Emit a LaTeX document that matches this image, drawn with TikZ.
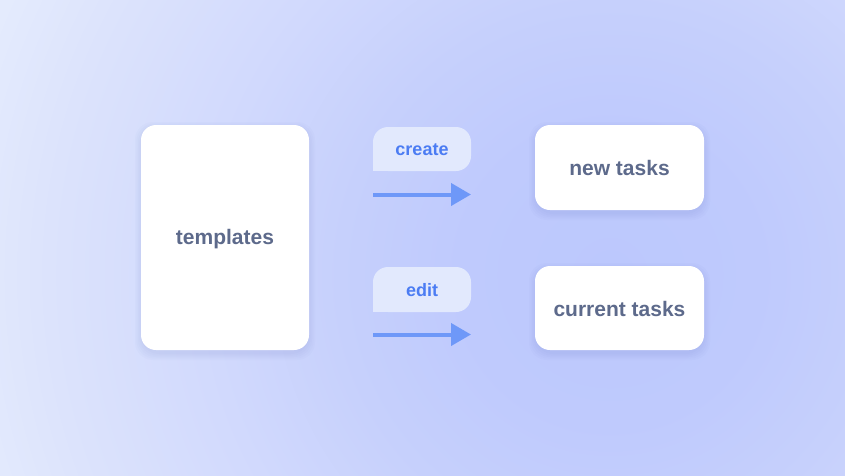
\documentclass[tikz,border=0pt]{standalone}
\usepackage{fontspec}
\setmainfont{Liberation Sans}
\usetikzlibrary{arrows.meta}
\definecolor{bgA}{HTML}{BCC8FD}
\definecolor{bgB}{HTML}{BFCAFD}
\definecolor{bgC}{HTML}{C6D0FC}
\definecolor{bgD}{HTML}{D1D9FD}
\definecolor{bgE}{HTML}{DCE3FC}
\definecolor{bgF}{HTML}{E4EBFD}
\definecolor{cardtext}{HTML}{5D6A8B}
\definecolor{lblfill}{HTML}{E2E9FD}
\definecolor{lbltext}{HTML}{4B7CF3}
\definecolor{arrowc}{HTML}{6E98F8}
\definecolor{shadowc}{HTML}{7080C0}
\pgfdeclareradialshading{bgshade}{\pgfpoint{0bp}{0bp}}{color(0bp)=(bgA); color(150bp)=(bgB); color(270bp)=(bgC); color(400bp)=(bgD); color(560bp)=(bgE); color(660bp)=(bgF); color(900bp)=(bgF)}
\tikzset{
  card/.style={fill=white, rounded corners=15pt, inner sep=0pt, text=cardtext,
    font=\fontsize{21}{24}\selectfont\bfseries},
  lbl/.style={inner sep=0pt, text=lbltext, font=\fontsize{18}{21}\selectfont\bfseries},
  arr/.style={draw=arrowc, line width=4pt, -{Triangle[length=20pt,width=22pt]}},
  shadowlayer/.style={fill=shadowc, fill opacity=0.03, rounded corners=18pt}
}
\newcommand{\softshadow}[4]{%
  \foreach \e in {1,2.5,4,5.5,7}{
    \fill[shadowlayer] (#1-\e+1,#2-\e+4) rectangle (#3+\e-1,#4+\e+3);
  }}
\begin{document}
\begin{tikzpicture}[x=1pt,y=-1pt]
\useasboundingbox (0,0) rectangle (845,475);
\begin{scope}
\clip (0,0) rectangle (845,475);
\node[inner sep=0pt] at (610,275) {\pgfuseshading{bgshade}};
\end{scope}
% shadows
\softshadow{141}{125}{309}{350}
\softshadow{535}{125}{704}{210}
\softshadow{535}{266}{704}{350}
% cards
\node[card, minimum width=168pt, minimum height=225pt] (templates) at (225,237.5) {};
\node[card, minimum width=169pt, minimum height=85pt] (newtasks) at (619.5,167.5) {};
\node[card, minimum width=169pt, minimum height=84pt] (curtasks) at (619.5,308) {};
\node[text=cardtext, font=\fontsize{21}{24}\selectfont\bfseries, inner sep=0pt] (templatestxt) at (225,239.5) {templates};
\node[text=cardtext, font=\fontsize{21}{24}\selectfont\bfseries, inner sep=0pt] (newtaskstxt) at (619.5,168) {new tasks};
\node[text=cardtext, font=\fontsize{21}{24}\selectfont\bfseries, inner sep=0pt] (curtaskstxt) at (619.5,309) {current tasks};
% label backgrounds
\fill[lblfill, rounded corners=15pt] (373,127) rectangle (471,171);
\fill[lblfill] (373,150) rectangle (395,171);
\node[lbl] (create) at (422,149.5) {create};
\fill[lblfill, rounded corners=15pt] (373,267) rectangle (471,312);
\fill[lblfill] (373,290) rectangle (395,312);
\node[lbl] (edit) at (422,290) {edit};
% arrows
\coordinate (a1s) at (373,194.5);
\coordinate (a1e) at (471,194.5);
\coordinate (a2s) at (373,334.5);
\coordinate (a2e) at (471,334.5);
\draw[arr] (a1s) -- (a1e);
\draw[arr] (a2s) -- (a2e);
\end{tikzpicture}
\end{document}
